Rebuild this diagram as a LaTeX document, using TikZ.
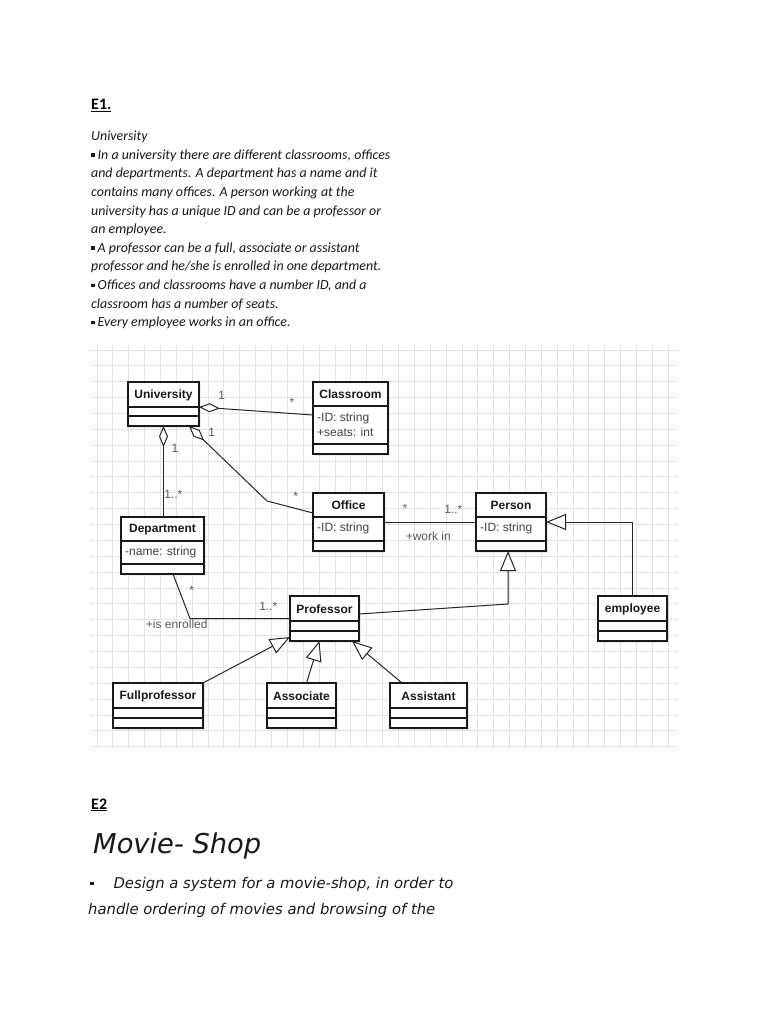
\documentclass[tikz,border=0pt]{standalone}
\usepackage{fontspec}
\usetikzlibrary{arrows.meta,calc,shadows}
\newfontfamily\carlito{Carlito}
\newfontfamily\arialfont{Liberation Sans}
\newfontfamily\dejavu{DejaVu Sans}
\newcommand{\sqb}{\rule[2.6pt]{3.4pt}{3.4pt}}
% class box: name, x, y, width, height of name part, total height, title
\newcommand{\umlclass}[7]{%
  \node[classbox, minimum width=#4pt, minimum height=#6pt, anchor=north west] (#1) at (#2,#3) {};
  \draw[classline] ([yshift=-#5pt]#1.north west) -- ([yshift=-#5pt]#1.north east);
  \draw[classline] ([yshift=10pt]#1.south west) -- ([yshift=10pt]#1.south east);
  \node[classname] (#1-name) at ([yshift={-#5*0.5pt-0.5pt}]#1.north) {#7};
}
\begin{document}
\begin{tikzpicture}[x=1pt, y=-1pt,
    gridline/.style={black!11, line width=1pt},
    classbox/.style={draw=black!90, line width=1.3pt, fill=white, inner sep=0pt, outer sep=0pt,
      drop shadow={shadow xshift=2pt, shadow yshift=-2pt, opacity=0.15}},
    classline/.style={draw=black!90, line width=1.3pt},
    classname/.style={font=\arialfont\bfseries\fontsize{12}{14}\selectfont, text=black!90},
    classattr/.style={font=\arialfont\fontsize{12}{14.7}\selectfont, text=black!75, align=left, inner sep=1pt, anchor=west},
    mult/.style={font=\arialfont\fontsize{12}{14}\selectfont, text=black!65, inner sep=0pt},
    link/.style={draw=black!85, line width=1pt},
    aggregation/.style={link, {Diamond[fill=white, length=21pt, width=9pt]}-},
    generalization/.style={link, -{Triangle[fill=white, length=20pt, width=16pt]}},
    bodytext/.style={font=\carlito\itshape\fontsize{13.9}{18.6}\selectfont, text=black!90, anchor=base west, inner sep=0pt},
    heading/.style={font=\carlito\bfseries\fontsize{16}{18}\selectfont, text=black, anchor=base west, inner sep=0pt},
    movietext/.style={font=\dejavu\itshape\fontsize{14.8}{18}\selectfont, text=black!90, anchor=base west, inner sep=0pt},
  ]
  \fill[white] (0,0) rectangle (768,1024);
  \useasboundingbox (0,0) rectangle (768,1024);

  % exercise 1 text
  \node[heading] (e1) at (91,109.3) {\underline{E1.}};
  \foreach \txt [count=\k from 0] in {
      {University},
      {\sqb\ In a university there are different classrooms, offices},
      {and departments. A department has a name and it},
      {contains many offices. A person working at the},
      {university has a unique ID and can be a professor or},
      {an employee.},
      {\sqb\ A professor can be a full, associate or assistant},
      {professor and he/she is enrolled in one department.},
      {\sqb\ Offices and classrooms have a number ID, and a},
      {classroom has a number of seats.},
      {\sqb\ Every employee works in an office.}}
    \node[bodytext] (t\k) at (91,{140.7+18.6*\k}) {\txt};

  % grid paper
  \foreach \k in {0,...,36}
    \draw[gridline] ({97+15.87*\k},345) -- ({97+15.87*\k},748);
  \foreach \k in {0,...,25}
    \draw[gridline] (90,{350+15.87*\k}) -- (678,{350+15.87*\k});

  % classes
  \umlclass{university}{128}{382}{71}{25}{44}{University}
  \umlclass{classroom}{313}{382}{75}{24}{72}{Classroom}
  \umlclass{office}{313}{493}{71}{24}{58}{Office}
  \umlclass{person}{476}{493}{70}{24}{58}{Person}
  \umlclass{department}{121}{517}{83}{24}{57}{Department}
  \umlclass{professor}{290}{596}{69}{25}{45}{Professor}
  \umlclass{employee}{598}{596}{69}{25}{45}{employee}
  \umlclass{fullprof}{113}{683}{90}{25}{45}{Fullprofessor}
  \umlclass{associate}{267}{683}{69}{25}{45}{Associate}
  \umlclass{assistant}{390}{683}{77}{25}{45}{Assistant}

  \node[classattr] (classroom-attr) at ([xshift=3pt, yshift=-43pt]classroom.north west) {-ID: string\\+seats: int};
  \node[classattr] (office-attr) at ([xshift=3pt, yshift=-35pt]office.north west) {-ID: string};
  \node[classattr] (person-attr) at ([xshift=3pt, yshift=-35pt]person.north west) {-ID: string};
  \node[classattr] (department-attr) at ([xshift=3pt, yshift=-35.5pt]department.north west) {-name: string};

  % connectors
  \coordinate (bend-uo) at (267,501);
  \coordinate (bend-dp) at (190,618.5);
  \coordinate (bend-pp) at (508,604);
  \draw[aggregation] ([yshift=-25pt]university.north east) -- ([yshift=-33pt]classroom.north west);
  \draw[aggregation] ([xshift=-10pt]university.south east) -- (bend-uo) -- ([yshift=-20pt]office.north west);
  \draw[aggregation] (university.south) -- (university.south |- department.north);
  \draw[link] (office.east) -- (person.west);
  \draw[link] ([xshift=-31pt]department.south east) -- (bend-dp) -- (professor.west);
  \draw[generalization] ([yshift=-18pt]professor.north east) -- (bend-pp) -- (bend-pp |- person.south);
  \draw[generalization] (employee.north) |- (person.east);
  \draw[generalization] (fullprof.north east) -- ([yshift=4pt]professor.south west);
  \draw[generalization] ([xshift=5pt]associate.north) -- ([xshift=-5pt]professor.south);
  \draw[generalization] ([xshift=12pt]assistant.north west) -- ([xshift=-7pt]professor.south east);

  % multiplicities and roles
  \node[mult, anchor=base] (m-uc1) at (221.7,399.3) {1};
  \node[mult, anchor=base] (m-uc2) at (292,406.3) {*};
  \node[mult, anchor=base] (m-uo1) at (211.7,436.6) {1};
  \node[mult, anchor=base] (m-uo2) at (295.7,500.3) {*};
  \node[mult, anchor=base] (m-ud1) at (175,452.6) {1};
  \node[mult, anchor=base] (m-ud2) at (173.3,498.3) {1..*};
  \node[mult, anchor=base] (m-op1) at (405,512) {*};
  \node[mult, anchor=base] (m-op2) at (453.3,513.6) {1..*};
  \node[mult] (r-work) at (428.3,536) {+work in};
  \node[mult, anchor=base] (m-dp1) at (191.7,594.3) {*};
  \node[mult, anchor=base] (m-dp2) at (268.3,610.3) {1..*};
  \node[mult, fill=white] (r-enrolled) at (176.7,624) {+is enrolled};

  % exercise 2 text
  \node[heading] (e2) at (91,809) {\underline{E2}};
  \node[movietext, font=\dejavu\itshape\fontsize{27.3}{30}\selectfont] (movie) at (93,853.3) {Movie- Shop};
  \node[movietext] (mv1) at (90,888) {\sqb\hspace{20pt}Design a system for a movie-shop, in order to};
  \node[movietext] (mv2) at (88,914.7) {handle ordering of movies and browsing of the};
\end{tikzpicture}
\end{document}
